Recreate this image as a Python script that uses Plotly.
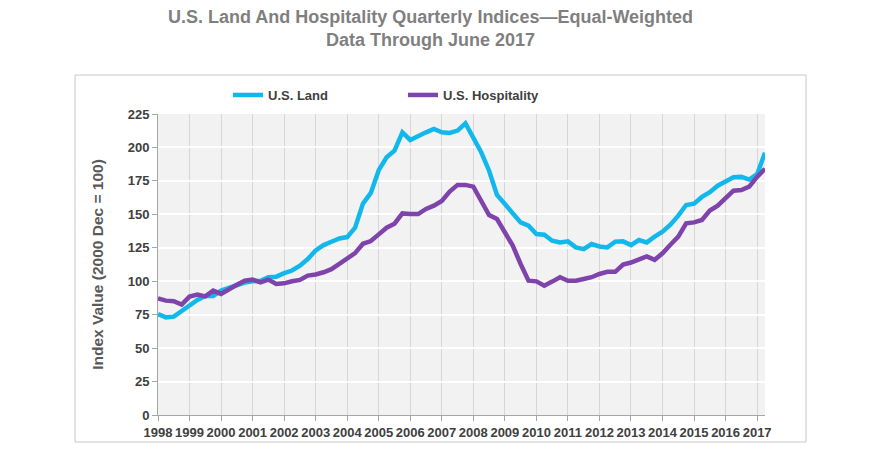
import plotly.graph_objects as go

# Quarterly data 1998Q1 .. 2017Q2
start_year = 1998
land = [75.5, 73, 73.5, 78,
        82.5, 86, 89, 89,
        93, 95, 96.7, 99,
        100, 100.4, 103, 103.4,
        106, 108, 111.6, 116.6,
        123, 127, 129.5, 132,
        133, 140, 158, 166,
        183, 192.6, 197.6, 211.3,
        205.6, 208.8, 211.3, 213.8,
        211.3, 210.8, 212.6, 218,
        207.6, 196.4, 182.6, 164.5,
        157.7, 150.3, 144, 141.5,
        135.3, 134.8, 130.3, 129,
        129.8, 125.3, 124, 127.8,
        126, 125.3, 129.6, 129.8,
        127, 130.8, 129, 133.3,
        137, 142.3, 149, 157,
        158, 163, 166.5, 171.4,
        174.4, 177.7, 178, 176,
        180, 196]
hospitality = [87.2, 85.5, 85, 82.5,
               88.5, 90, 88.7, 93,
               90.5, 94.2, 97.4, 100.4,
               101.2, 99.2, 101.2, 98,
               98.4, 100, 101, 104.2,
               105, 106.7, 109, 113,
               116.6, 121, 128, 130,
               135, 140, 143, 150.7,
               150.2, 150.2, 154, 156.5,
               160, 167, 172, 172,
               170.7, 160, 149.5, 146.5,
               136.5, 126.6, 112.9, 100.4,
               99.9, 96.7, 99.7, 103,
               100.4, 100.4, 101.7, 103,
               105.4, 107, 107, 112.4,
               114, 115.9, 118.6, 116,
               120.9, 127.3, 133.3, 143.3,
               144, 145.8, 152.8, 156.5,
               162, 167.7, 168.2, 170.7,
               178, 184]
years = list(range(1998, 2018))
y_ticks = [0, 25, 50, 75, 100, 125, 150, 175, 200, 225]

x = [start_year + i * 0.25 for i in range(len(land))]

LAND_COLOR = "#12b8ec"
HOSP_COLOR = "#7e44ab"
TXT = "#404040"
ARIAL = "Liberation Sans, Arial, sans-serif"

fig = go.Figure()
fig.add_trace(go.Scatter(x=x, y=land, mode="lines", name="U.S. Land",
                         line=dict(color=LAND_COLOR, width=4.5)))
fig.add_trace(go.Scatter(x=x, y=hospitality, mode="lines", name="U.S. Hospitality",
                         line=dict(color=HOSP_COLOR, width=4.5)))

L, R, T, B = 158, 115, 114, 46
W, H = 880, 461
pw, ph = W - L - R, H - T - B

def px_x(p):
    return (p - L) / pw

def px_y(p):
    return (H - B - p) / ph

fig.update_layout(
    width=W, height=H,
    margin=dict(l=L, r=R, t=T, b=B, pad=0, autoexpand=False),
    paper_bgcolor="white",
    plot_bgcolor="#f2f2f2",
    showlegend=True,
    legend=dict(orientation="h", x=px_x(228), y=px_y(95), xanchor="left", yanchor="middle",
                font=dict(family=ARIAL, size=13, color=TXT, weight="bold"),
                entrywidth=130, entrywidthmode="pixels", bgcolor="rgba(0,0,0,0)",
                itemclick=False, tracegroupgap=0),
    xaxis=dict(range=[1998, 2017.25], tickmode="array", tickvals=years,
               ticktext=[str(y) for y in years], tickangle=0, automargin=False,
               showgrid=True, gridcolor="#d6d6d6", gridwidth=1,
               showline=True, linecolor="#a6a6a6", linewidth=1,
               ticks="outside", ticklen=5, tickcolor="#a6a6a6",
               tickfont=dict(family=ARIAL, size=13, color=TXT, weight="bold"),
               zeroline=False, fixedrange=True),
    yaxis=dict(range=[0, 225], tickmode="array", tickvals=y_ticks, automargin=False,
               showgrid=True, gridcolor="white", gridwidth=2,
               showline=True, linecolor="#a6a6a6", linewidth=1,
               ticks="outside", ticklen=5, tickcolor="#a6a6a6",
               tickfont=dict(family=ARIAL, size=13, color=TXT, weight="bold"),
               title=dict(text="Index Value (2000 Dec = 100)", standoff=20,
                          font=dict(family=ARIAL, size=15.5, color="#595959", weight="bold")),
               zeroline=False, fixedrange=True),
)

# chart border box
fig.add_shape(type="rect", xref="paper", yref="paper",
              x0=px_x(75), x1=px_x(806), y0=px_y(442), y1=px_y(75),
              line=dict(color="#c8c8c8", width=1), fillcolor="rgba(0,0,0,0)", layer="below")

# title
fig.add_annotation(xref="paper", yref="paper", x=px_x(430), y=px_y(5),
                   xanchor="center", yanchor="top", showarrow=False,
                   text="U.S. Land And Hospitality Quarterly Indices\u2014Equal-Weighted<br>Data Through June 2017",
                   font=dict(family=ARIAL, size=18, color="#7f7f7f", weight="bold"))

fig.write_html("out.html")
